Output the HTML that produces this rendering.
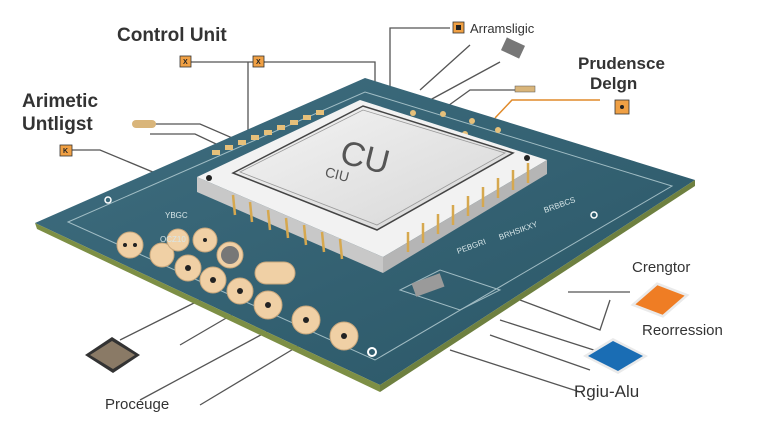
<!DOCTYPE html>
<html><head><meta charset="utf-8"><style>
html,body{margin:0;padding:0;background:#fff;}
svg{display:block;}
text{font-family:"Liberation Sans",sans-serif;}
</style></head><body>
<svg width="768" height="432" viewBox="0 0 768 432" xmlns="http://www.w3.org/2000/svg">
<defs>
<linearGradient id="bd" x1="0" y1="0" x2="1" y2="1"><stop offset="0" stop-color="#3f6e80"/><stop offset="1" stop-color="#2a5666"/></linearGradient>
<linearGradient id="ct" x1="0" y1="0" x2="1" y2="1"><stop offset="0" stop-color="#f4f4f4"/><stop offset="1" stop-color="#d6d6d6"/></linearGradient>
</defs>
<!-- leader lines outside -->
<g stroke="#555" stroke-width="1.3" fill="none">
<path d="M60 150 L100 150 L160 175"/>
<path d="M150 124 L200 124 L260 150"/>
<path d="M150 134 L195 134 L250 160"/>
<path d="M190 62 L265 62"/>
<path d="M262 62 L375 62 L375 95"/>
<path d="M248 62 L248 160"/>
<path d="M450 28 L390 28 L390 105"/>
<path d="M470 45 L420 90"/>
<path d="M500 62 L430 100"/>
<path d="M520 90 L470 90 L445 108"/>
<path d="M120 340 L200 300"/><path d="M180 345 L240 310"/>
<path d="M140 400 L270 330"/><path d="M200 405 L300 345"/>
<path d="M568 292 L630 292"/><path d="M610 300 L600 330 L520 300"/>
<path d="M500 320 L600 352"/><path d="M490 335 L590 370"/>
<path d="M450 350 L580 392"/>
</g>
<path d="M600 100 L512 100 L495 118" stroke="#e08a2a" stroke-width="1.5" fill="none"/>
<!-- board -->
<polygon points="35,223 365,78 695,180 380,385" fill="url(#bd)"/>
<polygon points="35,223 380,385 380,392 37,229" fill="#7d8f45"/>
<polygon points="380,385 695,180 695,186 380,392" fill="#6e8040"/>
<g stroke="#bcd3d8" stroke-width="1" fill="none" opacity="0.8">
<path d="M68 222 L365 92 L672 186 L375 360 Z"/>
<path d="M400 290 L440 270 L500 290 L460 310 Z"/>
</g>
<circle cx="372" cy="352" r="4" fill="none" stroke="#fff" stroke-width="2"/>
<circle cx="108" cy="200" r="3" fill="none" stroke="#fff" stroke-width="1.5"/>
<circle cx="594" cy="215" r="3" fill="none" stroke="#fff" stroke-width="1.5"/>
<rect x="413" y="278" width="30" height="14" fill="#9a9a9a" transform="rotate(-20 428 285)"/>
<!-- pads -->
<g fill="#f0d0a5" stroke="#c9a77c">
<circle cx="130" cy="245" r="13"/><circle cx="162" cy="255" r="12"/><circle cx="188" cy="268" r="13"/><circle cx="213" cy="280" r="13"/><circle cx="240" cy="291" r="13"/><circle cx="268" cy="305" r="14"/><circle cx="306" cy="320" r="14"/><circle cx="344" cy="336" r="14"/>
<circle cx="205" cy="240" r="12"/><circle cx="230" cy="255" r="13"/>
<rect x="255" y="262" width="40" height="22" rx="11"/>
<circle cx="178" cy="240" r="11"/>
</g>
<g fill="#222"><circle cx="188" cy="268" r="3"/><circle cx="213" cy="280" r="3"/><circle cx="240" cy="291" r="3"/><circle cx="268" cy="305" r="3"/><circle cx="306" cy="320" r="3"/><circle cx="344" cy="336" r="3"/><circle cx="125" cy="245" r="2"/><circle cx="135" cy="245" r="2"/><circle cx="205" cy="240" r="2"/></g>
<circle cx="230" cy="255" r="9" fill="#777"/>
<g fill="#d7e6e8" font-size="8">
<text x="165" y="218">YBGC</text><text x="160" y="242">OCZ10</text>
<text x="458" y="254" transform="rotate(-20 458 254)">PEBGRI</text>
<text x="500" y="240" transform="rotate(-20 500 240)">BRHSIKXY</text>
<text x="545" y="213" transform="rotate(-20 545 213)">BRBBCS</text>
</g>
<!-- small pins at top -->
<g fill="#e6c07a"><rect x="212" y="150" width="8" height="5"/><rect x="225" y="145" width="8" height="5"/><rect x="238" y="140" width="8" height="5"/><rect x="251" y="135" width="8" height="5"/><rect x="264" y="130" width="8" height="5"/><rect x="277" y="125" width="8" height="5"/><rect x="290" y="120" width="8" height="5"/><rect x="303" y="115" width="8" height="5"/><rect x="316" y="110" width="8" height="5"/>
<circle cx="413" cy="113" r="3"/><circle cx="443" cy="114" r="3"/><circle cx="472" cy="121" r="3"/><circle cx="498" cy="130" r="3"/><circle cx="465" cy="134" r="3"/></g>
<!-- chip -->
<polygon points="197,177 360,100 547,160 383,257" fill="#f2f2f2"/>
<polygon points="197,177 383,257 383,273 197,192" fill="#c8c8c8"/>
<polygon points="383,257 547,160 547,174 383,273" fill="#b5b5b5"/>
<g stroke="#d6a84f" stroke-width="2.5">
<line x1="233" y1="195" x2="235" y2="215"/><line x1="250" y1="202" x2="252" y2="222"/><line x1="268" y1="210" x2="270" y2="230"/><line x1="286" y1="218" x2="288" y2="238"/><line x1="304" y1="225" x2="306" y2="245"/><line x1="322" y1="232" x2="324" y2="252"/><line x1="340" y1="239" x2="342" y2="259"/>
<line x1="408" y1="232" x2="408" y2="252"/><line x1="423" y1="223" x2="423" y2="243"/><line x1="438" y1="214" x2="438" y2="234"/><line x1="453" y1="205" x2="453" y2="225"/><line x1="468" y1="196" x2="468" y2="216"/><line x1="483" y1="187" x2="483" y2="207"/><line x1="498" y1="178" x2="498" y2="198"/><line x1="513" y1="170" x2="513" y2="190"/><line x1="528" y1="163" x2="528" y2="183"/>
</g>
<polygon points="233,173 363,106 513,153 377,230" fill="url(#ct)" stroke="#444" stroke-width="1.5"/>
<polygon points="240,172 363,110 505,153 377,225" fill="none" stroke="#999" stroke-width="0.8"/>
<circle cx="209" cy="178" r="3" fill="#222"/><circle cx="527" cy="158" r="3" fill="#222"/>
<text x="340" y="170" font-size="34" fill="#555" transform="rotate(14 370 160)">CU</text>
<text x="325" y="180" font-size="14" fill="#555" transform="rotate(14 340 175)">CIU</text>
<!-- components -->
<polygon points="85,355 112,337 140,355 113,373" fill="#333"/>
<polygon points="90,355 112,341 135,355 113,369" fill="#8a7a66"/>
<polygon points="630,300 660,282 690,300 660,318" fill="#eaeaea" transform="rotate(-10 660 300)"/>
<polygon points="635,300 660,285 685,300 660,315" fill="#ef7d24" transform="rotate(-10 660 300)"/>
<polygon points="583,356 613,338 648,356 618,374" fill="#eaeaea"/>
<polygon points="588,356 613,341 643,356 618,371" fill="#1a6db4"/>
<rect x="503" y="41" width="20" height="14" fill="#777" transform="rotate(25 513 48)"/>
<rect x="515" y="86" width="20" height="6" fill="#d9b57a" stroke="#555" stroke-width="0.5"/>
<rect x="132" y="120" width="24" height="8" rx="4" fill="#d9b57a"/>
<!-- orange tags -->
<g fill="#f0a044" stroke="#333" stroke-width="0.8"><rect x="180" y="56" width="11" height="11"/><rect x="253" y="56" width="11" height="11"/><rect x="453" y="22" width="11" height="11"/><rect x="60" y="145" width="12" height="11"/><rect x="615" y="100" width="14" height="14"/></g>
<g font-size="7" font-weight="bold" fill="#222"><text x="183" y="64">X</text><text x="256" y="64">X</text><text x="63" y="153">K</text></g>
<rect x="456" y="25" width="5" height="5" fill="#222"/><circle cx="622" cy="107" r="2" fill="#222"/>
<!-- labels -->
<g fill="#333">
<text x="117" y="41" font-size="19" font-weight="bold">Control Unit</text>
<text x="22" y="107" font-size="19" font-weight="bold">Arimetic</text>
<text x="22" y="130" font-size="19" font-weight="bold">Untligst</text>
<text x="578" y="69" font-size="17" font-weight="bold">Prudensce</text>
<text x="590" y="89" font-size="17" font-weight="bold">Delgn</text>
<text x="470" y="33" font-size="13">Arramsligic</text>
<text x="632" y="272" font-size="15">Crengtor</text>
<text x="642" y="335" font-size="15">Reorression</text>
<text x="574" y="397" font-size="17">Rgiu-Alu</text>
<text x="105" y="409" font-size="15">Proceuge</text>
</g>
</svg>
</body></html>
